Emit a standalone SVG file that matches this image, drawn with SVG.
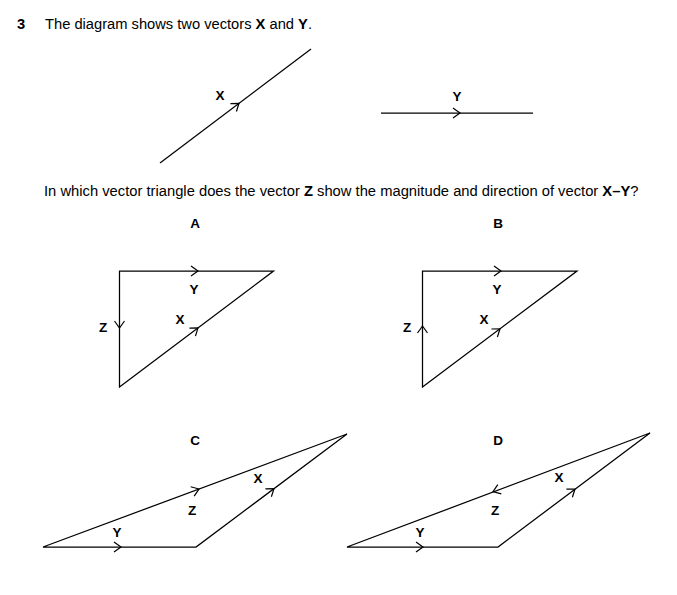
<svg xmlns="http://www.w3.org/2000/svg" xmlns:xlink="http://www.w3.org/1999/xlink" width="677" height="595" viewBox="0 0 677 595">
<style>
.t{font-family:"Liberation Sans",Arial,sans-serif;font-size:14.7px;fill:#000}
.b{font-weight:bold}
.l{font-family:"Liberation Sans",Arial,sans-serif;font-size:13.5px;font-weight:bold;fill:#000;text-anchor:middle}
.ln{fill:none;stroke:#000;stroke-width:1.25;stroke-linejoin:miter}
</style>
<defs>
<path id="ch" d="M-7,-5 L0,0 L-7,5" fill="none" stroke="#000" stroke-width="1.2"/>
</defs>
<rect width="677" height="595" fill="#fff"/>
<g id="texts">
<text class="t b" x="17" y="29">3</text>
<text class="t" x="45" y="29">The diagram shows two vectors <tspan class="b">X</tspan> and <tspan class="b">Y</tspan>.</text>
<text class="t" x="44" y="196" style="font-size:14.75px">In which vector triangle does the vector <tspan class="b">Z</tspan> show the magnitude and direction of vector <tspan class="b">X–Y</tspan>?</text>
</g>
<g id="vectorX">
<line class="ln" x1="160" y1="163" x2="311" y2="49"/>
<use xlink:href="#ch" transform="translate(239,103.3) rotate(-37.05)"/>
<text class="l" x="220" y="100">X</text>
</g>
<g id="vectorY">
<line class="ln" x1="381" y1="113" x2="533" y2="113"/>
<use xlink:href="#ch" transform="translate(460,113)"/>
<text class="l" x="457" y="101">Y</text>
</g>
<g id="triangleA">
<text class="l" x="195" y="228">A</text>
<polygon class="ln" points="119.5,271 273.5,271 119.5,387"/>
<use xlink:href="#ch" transform="translate(198,271)"/>
<use xlink:href="#ch" transform="translate(119.5,328) rotate(90)"/>
<use xlink:href="#ch" transform="translate(198,327.9) rotate(-37)"/>
<text class="l" x="194" y="294">Y</text>
<text class="l" x="103" y="332">Z</text>
<text class="l" x="180" y="324">X</text>
</g>
<g id="triangleB">
<text class="l" x="498" y="228">B</text>
<polygon class="ln" points="422.5,271 577,271 422.5,387"/>
<use xlink:href="#ch" transform="translate(501,271)"/>
<use xlink:href="#ch" transform="translate(422.5,326) rotate(-90)"/>
<use xlink:href="#ch" transform="translate(500,328.8) rotate(-36.9)"/>
<text class="l" x="497" y="294">Y</text>
<text class="l" x="407" y="332">Z</text>
<text class="l" x="484" y="324">X</text>
</g>
<g id="triangleC">
<text class="l" x="195" y="445">C</text>
<polygon class="ln" points="43,547 196,547 347,434"/>
<use xlink:href="#ch" transform="translate(121,547)"/>
<use xlink:href="#ch" transform="translate(199,489) rotate(-20.4)"/>
<use xlink:href="#ch" transform="translate(274,488.6) rotate(-36.8)"/>
<text class="l" x="117" y="537">Y</text>
<text class="l" x="192" y="515">Z</text>
<text class="l" x="258" y="483">X</text>
</g>
<g id="triangleD">
<text class="l" x="498" y="445">D</text>
<polygon class="ln" points="347,547 498,547 650,433"/>
<use xlink:href="#ch" transform="translate(423,547)"/>
<use xlink:href="#ch" transform="translate(493,491.7) rotate(159.4)"/>
<use xlink:href="#ch" transform="translate(575,489) rotate(-36.87)"/>
<text class="l" x="420" y="537">Y</text>
<text class="l" x="495" y="515">Z</text>
<text class="l" x="559" y="482">X</text>
</g>
</svg>
